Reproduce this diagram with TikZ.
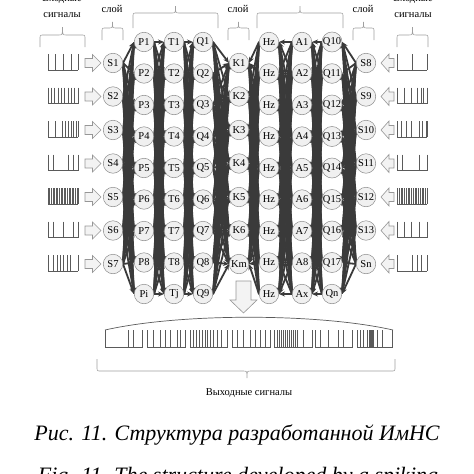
\documentclass[tikz,border=0pt]{standalone}
\usepackage{fontspec}
\setmainfont{Liberation Serif}
\usetikzlibrary{arrows.meta}
\pgfdeclarelayer{bg}
\pgfsetlayers{bg,main}
\definecolor{band}{RGB}{58,58,58}
\definecolor{nodefill}{RGB}{240,240,240}
\definecolor{nodeline}{RGB}{140,140,140}
\definecolor{sig}{RGB}{90,90,90}
\definecolor{arrfill}{RGB}{243,243,243}
\definecolor{arrline}{RGB}{150,150,150}
\newcommand\mybrace[5]{%
  \pgfmathsetmacro\xc{(#1+#2)/2}%
  \draw[brc] (#1,#3) -- (#1,#4+4) .. controls (#1,#4) .. (#1+4,#4) -- (\xc-4,#4)
    .. controls (\xc,#4) .. (\xc,#5) .. controls (\xc,#4) .. (\xc+4,#4)
    -- (#2-4,#4) .. controls (#2,#4) .. (#2,#4+4) -- (#2,#3);}
\begin{document}
\begin{tikzpicture}[x=1pt,y=-1pt,
  neuron/.style={circle,draw=nodeline,fill=nodefill,minimum size=19.5pt,inner sep=0pt,
    font=\fontsize{10.5}{10.5}\selectfont,line width=0.5pt},
  link/.style={draw=band,line width=1.8pt,-{Stealth[length=6pt,width=5pt]}},
  spk/.style={draw=sig,line width=0.7pt},
  brc/.style={draw=gray!75,line width=0.6pt},
  blk/.style={draw=arrline,fill=arrfill,line width=0.6pt,line join=miter},
  lbl/.style={font=\fontsize{10.5}{12}\selectfont,inner sep=0pt}]
\useasboundingbox (0,0) rectangle (474,474);

% ---- neurons, 9-row columns
\foreach \i/\a/\b/\c/\d/\e/\f in {1/P1/T1/Q1/Hz/A1/Q10,2/P2/T2/Q2/Hz/A2/Q11,3/P3/T3/Q3/Hz/A3/Q12,
  4/P4/T4/Q4/Hz/A4/Q13,5/P5/T5/Q5/Hz/A5/Q14,6/P6/T6/Q6/Hz/A6/Q15,7/P7/T7/Q7/Hz/A7/Q16,
  8/P8/T8/Q8/Hz/A8/Q17,9/Pi/Tj/Q9/Hz/Ax/Qn}{
  \pgfmathsetmacro\yy{42+31.5*(\i-1)}
  \node[neuron] (p\i) at (144,\yy) {\a};
  \node[neuron] (t\i) at (174,\yy) {\b};
  \node[neuron] (q\i) at (203,\yy) {\c};
  \node[neuron] (h\i) at (269,\yy) {\d};
  \node[neuron] (a\i) at (302,\yy) {\e};
  \node[neuron] (r\i) at (332,\yy) {\f};
}
% ---- neurons, 7-row columns
\foreach \i/\a/\b/\c in {1/S1/K1/S8,2/S2/K2/S9,3/S3/K3/S10,4/S4/K4/S11,5/S5/K5/S12,6/S6/K6/S13,7/S7/Km/Sn}{
  \pgfmathsetmacro\yy{63+33.5*(\i-1)}
  \node[neuron] (sl\i) at (113,\yy) {\a};
  \node[neuron] (k\i) at (239,\yy) {\b};
  \node[neuron] (sr\i) at (366,\yy) {\c};
  % block arrows
  \draw[blk] (85,\yy-4.5) -- (92.5,\yy-4.5) -- (92.5,\yy-8.5) -- (101,\yy) -- (92.5,\yy+8.5)
     -- (92.5,\yy+4.5) -- (85,\yy+4.5) -- cycle;
  \draw[blk] (394,\yy-4.5) -- (389,\yy-4.5) -- (389,\yy-9) -- (381,\yy) -- (389,\yy+9)
     -- (389,\yy+4.5) -- (394,\yy+4.5) -- cycle;
}

% ---- connections
\begin{pgfonlayer}{bg}
\foreach \i in {1,...,7}{\foreach \j in {1,...,9}{
  \draw[link] (sl\i.east) -- (p\j.west);
  \draw[link] (sr\i.west) -- (r\j.east);
  \draw[link] (q\j.east) -- (k\i.west);
  \draw[link] (h\j.west) -- (k\i.east);
}}
\foreach \i in {1,...,9}{\foreach \j in {1,...,9}{
  \draw[link] (p\i.east) -- (t\j.west);
  \draw[link] (t\i.east) -- (q\j.west);
  \draw[link] (r\i.west) -- (a\j.east);
  \draw[link] (a\i.west) -- (h\j.east);
}}
\end{pgfonlayer}

% ---- input spike trains, left
\foreach \yy/\xs in {63/{48,55,63,71,78},96.5/{48,51.3,54.6,58,61.3,64.6,68,71.3,74.6,78},
  130/{48,55,62,65,68,71,73,76,78},163.5/{48,53,68,73,78},
  197/{48,49.5,51,53,54,56,57.5,59,61,62,64,65.5,67,69,70,72,73.5,75,77,78},
  230.5/{48,53,63,73,78},264/{48,53,57,60,63,67,70,78}}{
  \draw[spk] (48,\yy+7) -- (78,\yy+7);
  \foreach \x in \xs {\draw[spk] (\x,\yy-9) -- (\x,\yy+7);}
}
% ---- input spike trains, right
\foreach \yy/\xs in {63/{397,412,427},96.5/{397,404,411,417,421,423,427},
  130/{397,401,406,411,419,422,426,427},163.5/{397,402,419,427},
  197/{397,399,401,402.5,404,406,408,409.5,411,413,415,416.5,418,420,422,423.5,425,427},
  230.5/{397,404,411,419,427},264/{397,412,417,421,427}}{
  \draw[spk] (397,\yy+7) -- (427,\yy+7);
  \foreach \x in \xs {\draw[spk] (\x,\yy-9) -- (\x,\yy+7);}
}

% ---- output arrow
\draw[blk] (236,281) -- (251,281) -- (251,300) -- (257,300) -- (243.5,313) -- (230,300) -- (236,300) -- cycle;

% ---- output spike train
\draw[spk] (105,330) .. controls (180,313) and (318,313) .. (393,330);
\foreach \a/\b/\xs in {105/142/{128,133},147/185/{153,160,165,170,177,180},
  190/227/{193,196,199,202,205,207,210,213,217,221},232/270/{237,243,250,255,260,265},
  274/312/{277,279,281,283,285,287,289,291,293,295,297,303},315/352/{320,328,338,343},
  357/392/{360,363,367,369,370,371,372,373,377,382}}{
  \draw[spk] (\a,330) -- (\a,347) -- (\b,347) -- (\b,330);
  \foreach \x in \xs {\draw[spk] (\x,330) -- (\x,347);}
}

% ---- braces
\mybrace{40}{85}{47}{35}{27}
\mybrace{397}{428}{47}{35}{27}
\mybrace{102}{123}{40}{28}{22}
\mybrace{228}{249}{40}{28}{22}
\mybrace{353}{374}{40}{28}{22}
\mybrace{133}{218}{28}{13}{6}
\mybrace{257}{343}{28}{13}{6}
\draw[brc] (97,359) -- (97,367) .. controls (97,371) .. (101,371) -- (243,371)
  .. controls (247,371) .. (247,378) .. controls (247,371) .. (251,371) -- (391,371)
  .. controls (395,371) .. (395,367) -- (395,359);

% ---- texts
\node[lbl,anchor=base] (inL) at (62,1) {Входные};
\node[lbl,anchor=base] (sigL) at (62,17) {сигналы};
\node[lbl,anchor=base] (inR) at (413,1) {Входные};
\node[lbl,anchor=base] (sigR) at (413,17) {сигналы};
\node[lbl,anchor=base] (l1) at (112,12) {слой};
\node[lbl,anchor=base] (l2) at (238,12) {слой};
\node[lbl,anchor=base] (l3) at (363,12) {слой};
\node[lbl,anchor=base] (out) at (249,395) {Выходные сигналы};
\node[anchor=base,inner sep=0pt,font=\fontsize{22}{24}\selectfont\itshape] (cap) at (237,440)
  {Рис. 11. Структура разработанной ИмНС};
\node[anchor=base,inner sep=0pt,font=\fontsize{22}{24}\selectfont\itshape] (capen) at (238,482)
  {Fig. 11. The structure developed by a spiking};
\end{tikzpicture}
\end{document}
